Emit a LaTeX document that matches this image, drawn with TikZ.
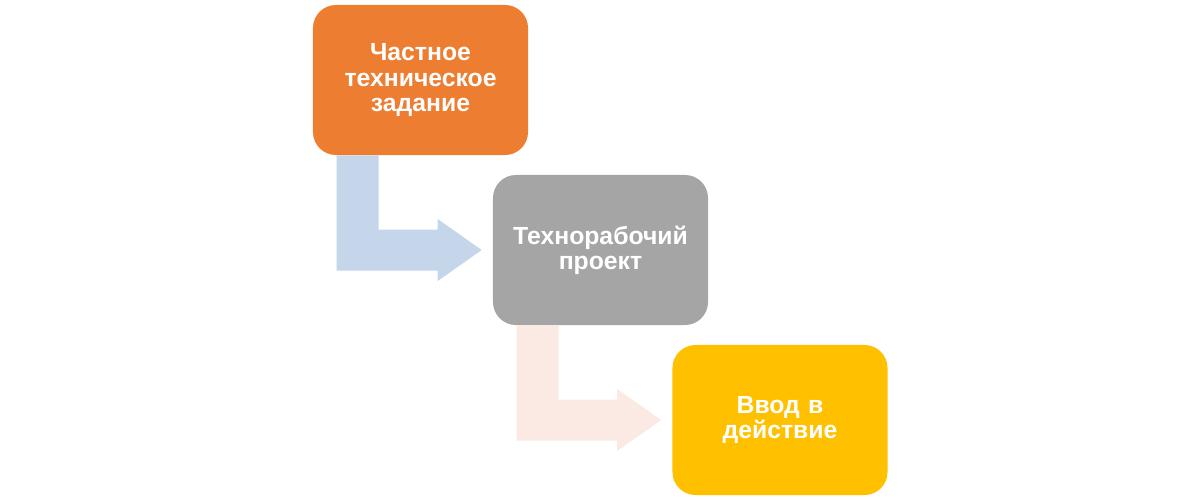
\documentclass[tikz,border=0pt]{standalone}
\usepackage{fontspec}
\setmainfont{Liberation Sans}
\usetikzlibrary{calc}
\definecolor{boxorange}{HTML}{ED7D31}
\definecolor{boxgray}{HTML}{A5A5A5}
\definecolor{boxyellow}{HTML}{FFC000}
\definecolor{arrowblue}{HTML}{C5D5EA}
\definecolor{arrowpink}{HTML}{FBE9E4}

\begin{document}
\begin{tikzpicture}[x=0.025cm, y=-0.025cm,
  stage/.style={rounded corners=0.575cm, minimum width=5.375cm, minimum height=3.75cm,
    text width=5.2cm, align=center, inner sep=0pt, text=white,
    font=\bfseries\fontsize{17.6}{17.9}\selectfont}]
  \useasboundingbox (0,0) rectangle (1200,499);
  \node[stage,fill=boxorange] (zadanie) at (420.5,80) {Частное\\техническое\\задание};
  \node[stage,fill=boxgray] (proekt) at (600.5,250) {Технорабочий\\проект};
  \node[stage,fill=boxyellow] (vvod) at (780,420) {Ввод в\\действие};
  % bent arrows between the stages
  \foreach \a/\b/\c in {zadanie/proekt/arrowblue, proekt/vvod/arrowpink} {
    \coordinate (s) at ($(\a.south west)+(24,0)$);
    \coordinate (t) at ($(\b.west)+(-11,0)$);
    \fill[\c] (s) -- ++(42,0) |- ($(t)+(-44,-20.5)$) -- ++(0,-10.5) -- (t)
      -- ($(t)+(-44,31)$) -- ++(0,-10.5) -| (s) -- cycle;
  }
\end{tikzpicture}
\end{document}
